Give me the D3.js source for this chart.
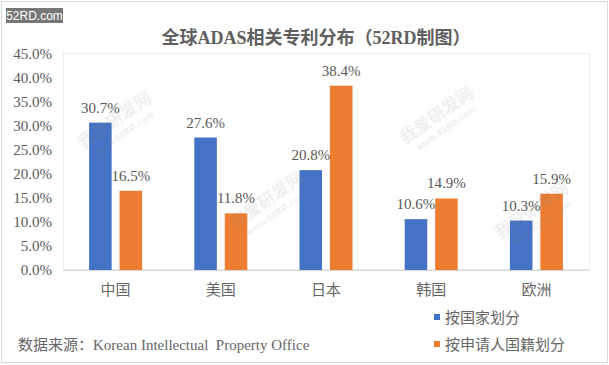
<!DOCTYPE html>
<html>
<head>
<meta charset="utf-8">
<script src="https://cdn.jsdelivr.net/npm/d3@7"></script>
<style>
  body { margin: 0; background: #fff; }
  svg { display: block; }
  text { font-family: "Liberation Serif", "Noto Sans CJK SC", serif; fill: #595959; }
</style>
</head>
<body>
<div id="wrapper"></div>
<script>
// data
const categories = ["中国", "美国", "日本", "韩国", "欧洲"]
const seriesNames = ["按国家划分", "按申请人国籍划分"]
const byCountry = [30.7, 27.6, 20.8, 10.6, 10.3]
const byApplicant = [16.5, 11.8, 38.4, 14.9, 15.9]
const yTicks = [0, 5, 10, 15, 20, 25, 30, 35, 40, 45]
const colors = ["#4472C4", "#ED7D31"]

const dataset = categories.map((c, i) => ({
  category: c,
  values: [byCountry[i], byApplicant[i]]
}))

function drawChart() {
  const dimensions = {
    width: 609,
    height: 365,
    margin: { top: 54, right: 20, bottom: 95, left: 63 }
  }
  dimensions.boundedWidth = dimensions.width - dimensions.margin.left - dimensions.margin.right
  dimensions.boundedHeight = dimensions.height - dimensions.margin.top - dimensions.margin.bottom

  const wrapper = d3.select("#wrapper")
    .append("svg")
      .attr("width", dimensions.width)
      .attr("height", dimensions.height)

  // outer border
  wrapper.append("rect")
    .attr("x", 1.5).attr("y", 1.5)
    .attr("width", dimensions.width - 3)
    .attr("height", dimensions.height - 4)
    .attr("fill", "none")
    .attr("stroke", "#d9d9d9")

  // site stamp
  wrapper.append("rect")
    .attr("x", 6).attr("y", 8).attr("width", 57).attr("height", 15)
    .attr("fill", "#777")
  wrapper.append("text")
    .attr("x", 34.5).attr("y", 20)
    .attr("text-anchor", "middle")
    .style("font-family", "'Liberation Sans', sans-serif")
    .style("font-size", "12px")
    .style("fill", "#fff")
    .text("52RD.com")

  // title
  wrapper.append("text")
    .attr("x", 316).attr("y", 44)
    .attr("text-anchor", "middle")
    .style("font-size", "18px")
    .style("font-weight", "bold")
    .style("fill", "#606060")
    .text("全球ADAS相关专利分布（52RD制图）")

  const bounds = wrapper.append("g")
    .attr("transform", `translate(${dimensions.margin.left},${dimensions.margin.top})`)

  // scales
  const xScale = d3.scaleBand()
    .domain(categories)
    .range([0, dimensions.boundedWidth])

  const innerScale = d3.scaleBand()
    .domain([0, 1])
    .range([0, 53])
    .paddingInner(0.26)

  const yScale = d3.scaleLinear()
    .domain([0, 45])
    .range([dimensions.boundedHeight, 0])

  // plot frame
  bounds.append("rect")
    .attr("x", 0.5).attr("y", -0.5)
    .attr("width", dimensions.boundedWidth)
    .attr("height", dimensions.boundedHeight)
    .attr("fill", "none")
    .attr("stroke", "#ebebeb")

  // watermarks
  const marks = [[118, 125], [270, 205], [440, 120], [535, 215]]
  marks.forEach(([x, y]) => {
    const g = wrapper.append("g")
      .attr("transform", `translate(${x},${y}) rotate(-35)`)
      .style("opacity", 0.13)
    g.append("text")
      .attr("text-anchor", "middle")
      .style("font-family", "'Noto Sans CJK SC', sans-serif")
      .style("font-size", "17px")
      .style("font-weight", "bold")
      .style("fill", "#888")
      .text("我爱研发网")
    g.append("text")
      .attr("y", 13)
      .attr("text-anchor", "middle")
      .style("font-family", "'DejaVu Sans', sans-serif")
      .style("font-size", "8px")
      .style("font-weight", "bold")
      .style("fill", "#888")
      .text("www.52RD.com")
  })

  // bars
  const groups = bounds.selectAll(".group")
    .data(dataset)
    .enter().append("g")
      .attr("class", "group")
      .attr("transform", d => `translate(${xScale(d.category) + (xScale.bandwidth() - 53) / 2},0)`)

  groups.selectAll("rect")
    .data(d => d.values)
    .enter().append("rect")
      .attr("x", (d, i) => innerScale(i))
      .attr("y", d => yScale(d))
      .attr("width", innerScale.bandwidth())
      .attr("height", d => dimensions.boundedHeight - yScale(d))
      .attr("fill", (d, i) => colors[i])

  groups.selectAll(".label")
    .data(d => d.values)
    .enter().append("text")
      .attr("class", "label")
      .attr("x", (d, i) => innerScale(i) + innerScale.bandwidth() / 2)
      .attr("y", d => yScale(d) - 10)
      .attr("text-anchor", "middle")
      .style("font-size", "15px")
      .text(d => d.toFixed(1) + "%")

  // axes
  const yAxisGenerator = d3.axisLeft(yScale)
    .tickValues(yTicks)
    .tickSize(0)
    .tickPadding(11)
    .tickFormat(d => d.toFixed(1) + "%")
  const yAxis = bounds.append("g").call(yAxisGenerator)
  yAxis.select(".domain").remove()
  yAxis.selectAll("text")
    .style("font-size", "15px")
    .style("fill", "#595959")
    .style("font-family", "'Liberation Serif', serif")

  const xAxisGenerator = d3.axisBottom(xScale)
    .tickSize(0)
    .tickPadding(14)
  const xAxis = bounds.append("g")
    .call(xAxisGenerator)
      .attr("transform", `translate(0,${dimensions.boundedHeight})`)
  xAxis.select(".domain").attr("stroke", "#d9d9d9")
  xAxis.selectAll("text")
    .style("font-size", "15px")
    .style("fill", "#666")
    .style("font-family", "'Liberation Serif', 'Noto Sans CJK SC', serif")

  // legend
  const legend = wrapper.append("g")
  const items = legend.selectAll("g")
    .data(seriesNames)
    .enter().append("g")
      .attr("transform", (d, i) => `translate(434,${317 + i * 27})`)
  items.append("rect")
    .attr("x", 0).attr("y", -3)
    .attr("width", 6).attr("height", 6)
    .attr("fill", (d, i) => colors[i])
  items.append("text")
    .attr("x", 11).attr("y", 6)
    .style("font-size", "15px")
    .style("fill", "#666")
    .text(d => d)

  // source
  wrapper.append("text")
    .attr("x", 18).attr("y", 350)
    .style("font-size", "15px")
    .style("fill", "#666")
    .attr("xml:space", "preserve")
    .text("数据来源：Korean Intellectual  Property Office")
}

drawChart()
</script>
</body>
</html>
